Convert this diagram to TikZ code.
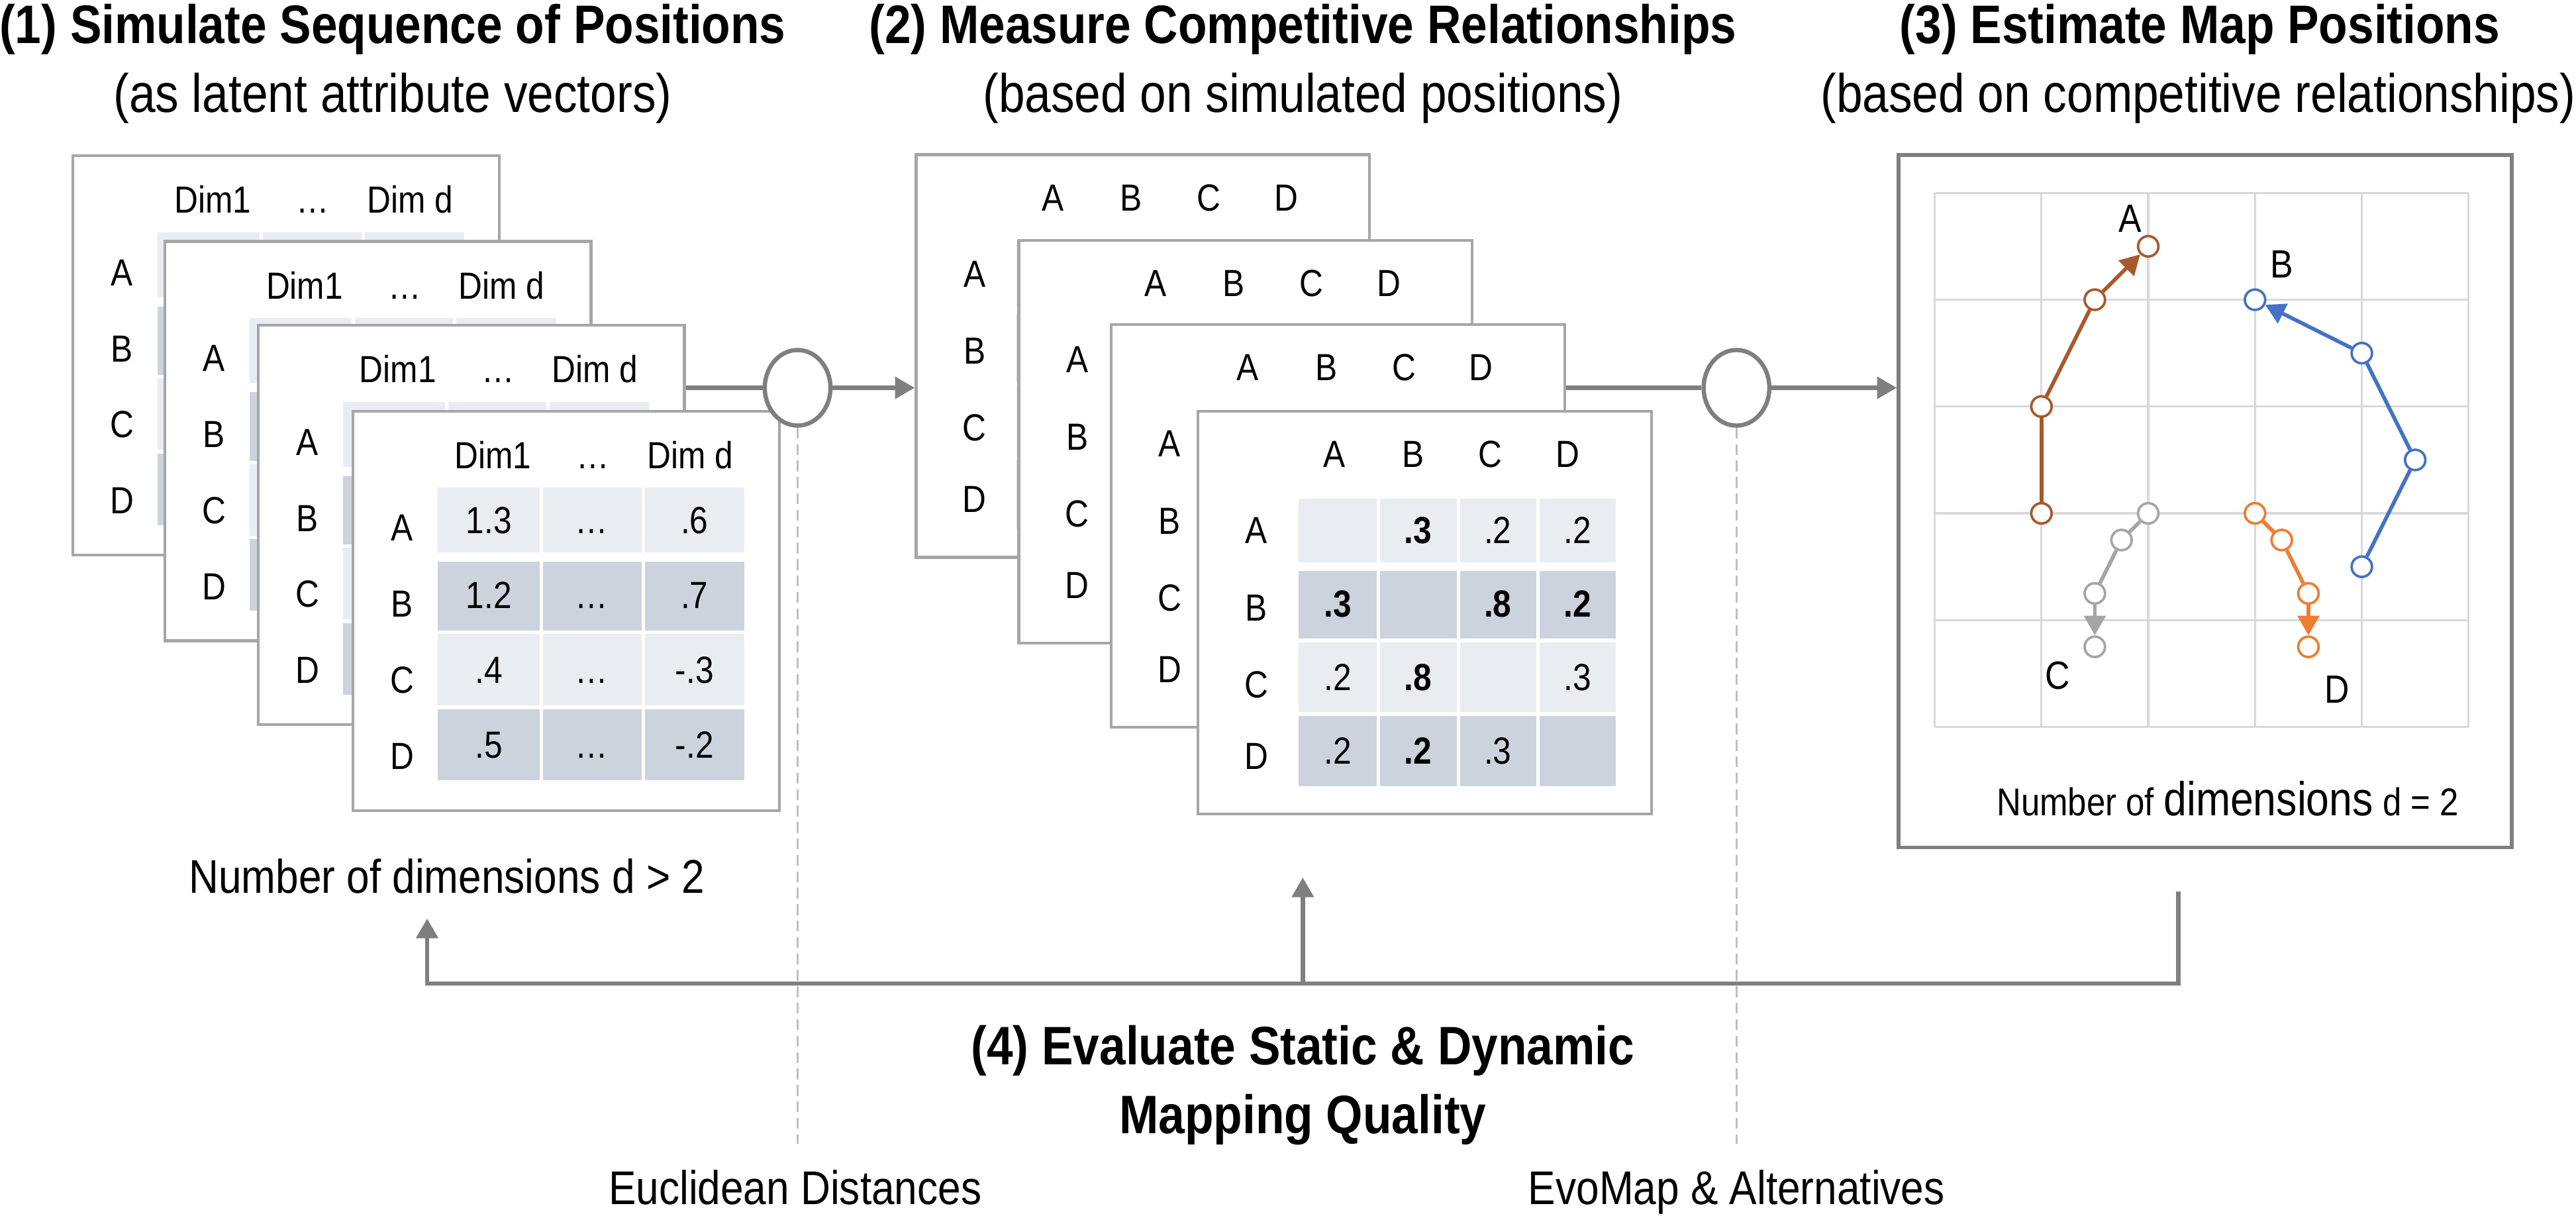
\documentclass[tikz,border=0pt]{standalone}
\usepackage{fontspec}
\setmainfont{Liberation Sans}[FakeStretch=0.87]
\usetikzlibrary{arrows.meta,shapes.geometric}
\definecolor{framegray}{HTML}{A6A6A6}
\definecolor{linegray}{HTML}{7F7F7F}
\definecolor{guidegray}{HTML}{BFBFBF}
\definecolor{gridgray}{HTML}{D9D9D9}
\definecolor{cellhi}{HTML}{E9ECF1}
\definecolor{celllo}{HTML}{CCD3DD}
\definecolor{trA}{HTML}{A9582B}
\definecolor{trB}{HTML}{4472C4}
\definecolor{trC}{HTML}{A5A5A5}
\definecolor{trD}{HTML}{ED7D31}

\begin{document}
\begin{tikzpicture}[x=0.5pt,y=-0.5pt,
  ttl/.style={font=\fontsize{16.5}{20}\selectfont\bfseries,anchor=base,inner sep=0pt},
  sub/.style={font=\fontsize{16.5}{20}\selectfont,anchor=base,inner sep=0pt},
  lbl/.style={font=\fontsize{14.4}{17}\selectfont,anchor=base,inner sep=0pt},
  tab/.style={font=\fontsize{11.5}{14}\selectfont,anchor=base,inner sep=0pt},
  plab/.style={font=\fontsize{12}{14}\selectfont,inner sep=0pt},
  sheet/.style={draw=framegray,line width=0.85pt,fill=white,anchor=north west,inner sep=0pt},
  junc/.style={ellipse,draw=linegray,line width=1.3pt,fill=white,minimum width=20pt,
    minimum height=23pt,inner sep=0pt},
  conn/.style={draw=linegray,line width=1.35pt},
  ar/.style={conn,-{Triangle[length=6pt,width=6.5pt]}},
  guide/.style={draw=guidegray,line width=0.55pt,dash pattern=on 3.3pt off 1.7pt},
  gridln/.style={draw=gridgray,line width=0.65pt},
  mk/.style={circle,draw=#1,fill=white,line width=0.75pt,inner sep=0pt,minimum size=6.2pt},
  traj/.style={draw=#1,line width=1.15pt},
  trar/.style={traj=#1,-{Triangle[length=6pt,width=6.5pt]}}]
\useasboundingbox (0,0) rectangle (1568,741);
\fill[white] (0,0) rectangle (1568,741);

% titles
\node[ttl] (t1) at (239,26.2) {(1) Simulate Sequence of Positions};
\node[sub] (s1) at (239,68.5) {(as latent attribute vectors)};
\node[ttl] (t2) at (793,26.2) {(2) Measure Competitive Relationships};
\node[sub] (s2) at (793,68.5) {(based on simulated positions)};
\node[ttl] (t3) at (1339,26.2) {(3) Estimate Map Positions};
\node[sub] (s3) at (1338,68.5) {(based on competitive relationships)};

% (1) stack of attribute tables
\foreach \f/\fx/\fy in {1/43.5/94,2/99.4/146.1,3/156.2/197.2,4/214/249.4}{
  \node[sheet,minimum width=129.75pt,minimum height=121.5pt] (sim\f) at (\fx,\fy) {};
  \begin{scope}[shift={(\fx,\fy)}]
    \foreach \ya/\yb/\cl in {47.4/86.9/cellhi,92.6/134.3/celllo,136.3/179.8/cellhi,182.1/225.6/celllo}
      \foreach \xa/\xb in {52.5/114.6,116.6/176.5,178.5/239}
        \fill[\cl] (\xa,\ya) rectangle (\xb,\yb);
    \node[tab] (sim\f h1) at (86,35.7) {Dim1};
    \node[tab] (sim\f h2) at (147,35.7) {…};
    \node[tab] (sim\f h3) at (206,35.7) {Dim d};
    \foreach \r/\y in {A/79.8,B/126.1,C/172.4,D/218.7}
      \node[tab] (sim\f\r) at (30.8,\y) {\r};
  \end{scope}
}
\begin{scope}[shift={(214,249.4)}]
  \foreach \c/\r/\v in {1/1/1.3,2/1/…,3/1/.6,1/2/1.2,2/2/…,3/2/.7,
                        1/3/.4,2/3/…,3/3/-.3,1/4/.5,2/4/…,3/4/-.2}
    \node[tab] (simv\c\r) at ({20.95+62.6*\c},{29.6+45.6*\r}) {\v};
\end{scope}

% (2) stack of competition tables
\foreach \f/\fx/\fy in {1/556.8/93.3,2/619.3/145.4,3/675.5/196.6,4/728.3/249.4}{
  \node[sheet,minimum width=138pt,minimum height=122.5pt] (cmp\f) at (\fx,\fy) {};
  \begin{scope}[shift={(\fx,\fy)}]
    \foreach \ya/\yb/\cl in {54.1/92.9/cellhi,97.9/139/celllo,141.7/184.1/cellhi,186.5/228.9/celllo}
      \foreach \xa/\xb in {62.1/109.9,111.9/158.4,160.4/206.8,208.8/255.3}
        \fill[\cl] (\xa,\ya) rectangle (\xb,\yb);
    \foreach \r/\x in {A/84,B/131.7,C/179,D/226}
      \node[tab] (cmp\f h\r) at (\x,35.1) {\r};
    \foreach \r/\y in {A/81.5,B/128.3,C/175.1,D/218.6}
      \node[tab] (cmp\f\r) at (36.4,\y) {\r};
  \end{scope}
}
\begin{scope}[shift={(728.3,249.4)}]
  \foreach \c/\r/\v in {2/1/\textbf{.3},3/1/.2,4/1/.2,
                        1/2/\textbf{.3},3/2/\textbf{.8},4/2/\textbf{.2},
                        1/3/.2,2/3/\textbf{.8},4/3/.3,
                        1/4/.2,2/4/\textbf{.2},3/4/.3}
    \node[tab] (cmpv\c\r) at ({37.3+48.7*\c},{36.8+44.7*\r}) {\v};
\end{scope}

% (3) map
\node[draw=linegray,line width=1.1pt,anchor=north west,inner sep=0pt,
  minimum width=186.55pt,minimum height=210.65pt] (map) at (1154.6,93.3) {};
\begin{scope}[shift={(1177.6,117.4)},x=32.5pt,y=-32.5pt]
  \foreach \i in {0,...,5}{
    \draw[gridln] (\i,0) -- (\i,5);
    \draw[gridln] (0,\i) -- (5,\i);
  }
  \foreach \n/\cl/\xa/\ya/\xb/\yb/\xc/\yc/\xd/\yd in {
      a/trA/1/3/1/2/1.5/1/2/.5,
      b/trB/4/3.5/4.5/2.5/4/1.5/3/1,
      c/trC/2/3/1.75/3.25/1.5/3.75/1.5/4.25,
      d/trD/3/3/3.25/3.25/3.5/3.75/3.5/4.25}{
    \node[mk=\cl] (\n1) at (\xa,\ya) {};
    \node[mk=\cl] (\n2) at (\xb,\yb) {};
    \node[mk=\cl] (\n3) at (\xc,\yc) {};
    \node[mk=\cl] (\n4) at (\xd,\yd) {};
    \draw[traj=\cl] (\n1) -- (\n2);
    \draw[traj=\cl] (\n2) -- (\n3);
    \draw[trar=\cl] (\n3) -- (\n4);
  }
  \node[plab] (la) at (1.83,.24) {A};
  \node[plab] (lb) at (3.25,.67) {B};
  \node[plab] (lc) at (1.15,4.52) {C};
  \node[plab] (ld) at (3.77,4.65) {D};
\end{scope}
\node[anchor=base,inner sep=0pt,font=\fontsize{11.8}{14}\selectfont] (nlow) at (1356,496.2)
  {Number of {\fontsize{14.5}{17}\selectfont dimensions} d = 2};

% junctions between steps
\node[junc] (j1) at (485.5,236) {};
\node[junc] (j2) at (1057,236) {};
\draw[conn] (sim3.east |- j1) -- (j1);
\draw[ar] (j1) -- (j1 -| cmp1.west);
\draw[conn] (cmp3.east |- j2) -- (j2);
\draw[ar] (j2) -- (j2 -| map.west);
\coordinate (g1) at (485.5,696);
\coordinate (g2) at (1057,696);
\draw[guide] (j1) -- (g1);
\draw[guide] (j2) -- (g2);

% (4) feedback
\node[lbl] (nhigh) at (272,543.5) {Number of dimensions d > 2};
\coordinate (fbr) at (1326,542.5);
\coordinate (fbm) at (793,534);
\coordinate (fbl) at (260,559);
\coordinate (fbb) at (793,598.6);
\draw[ar] (fbr) |- (fbb) -| (fbl);
\draw[ar] (fbb) -- (fbm);
\node[ttl] (eval) at (793,648) {(4) Evaluate Static \& Dynamic};
\node[ttl] (evalb) at (793,690) {Mapping Quality};
\node[lbl] (euc) at (484,733) {Euclidean Distances};
\node[lbl] (evo) at (1057,733) {EvoMap \& Alternatives};
\end{tikzpicture}
\end{document}
